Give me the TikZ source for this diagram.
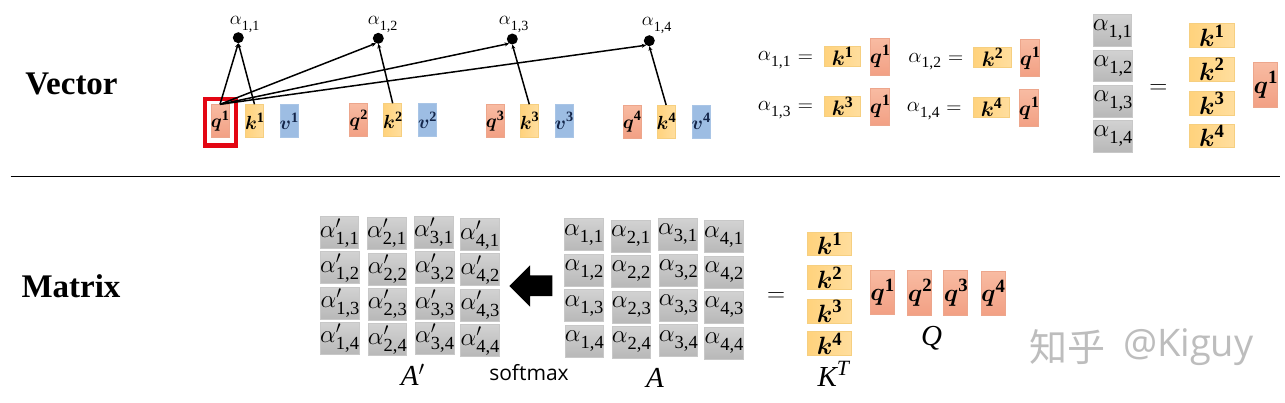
\RequirePackage{fix-cm}
\documentclass[tikz,border=0pt]{standalone}
\usepackage{amsmath}
\usepackage{graphicx}
\usepackage{fontspec}
\setmainfont{Liberation Serif}
\newfontfamily\cjkwm{Noto Sans CJK SC}
\newfontfamily\wmlatin{Open Sans}
\newfontfamily\softfont{Open Sans}
\newcommand{\fsz}[1]{\fontsize{#1}{#1}\selectfont}
% name, style, x0, y0, x1, y1, text
\newcommand{\cellbox}[7]{%
  \pgfmathsetmacro{\cbx}{(#3+#5)/2}\pgfmathsetmacro{\cby}{(#4+#6)/2}%
  \pgfmathsetmacro{\cbw}{#5-#3}\pgfmathsetmacro{\cbh}{#6-#4}%
  \node[#2,minimum width=\cbw pt,minimum height=\cbh pt] (#1) at (\cbx,\cby) {\makebox[0pt]{#7}};}
\tikzset{
  basecell/.style={rectangle,inner sep=0pt,outer sep=0pt,line width=0.6pt,text=black},
  qcell/.style={basecell,draw=qline,top color=qtop,bottom color=qbot},
  kcell/.style={basecell,draw=kline,left color=kleft,right color=kright},
  vcell/.style={basecell,draw=vline,fill=vfill,text=vtext},
  acell/.style={basecell,draw=aline,top color=atop,bottom color=abot},
  small/.style={font=\fsz{19}},
  mid/.style={font=\fsz{21}},
  large/.style={font=\fsz{25}},
  dot/.style={circle,fill=black,inner sep=0pt,outer sep=0pt,minimum size=11pt},
  link/.style={draw=black,line width=1.5pt,-{Stealth[length=4.5pt,width=4pt]}},
  plain/.style={inner sep=0pt,outer sep=0pt,text=black},
  sect/.style={plain,font=\bfseries\fsz{33},text=black},
  sel/.style={rectangle,draw=selred,line width=4.3pt,inner sep=0pt,outer sep=0pt}
}
\definecolor{qtop}{HTML}{F8BBA2}\definecolor{qbot}{HTML}{F2A084}\definecolor{qline}{HTML}{EDA68C}
\definecolor{kleft}{HTML}{FFD27C}\definecolor{kright}{HTML}{FFDE9E}\definecolor{kline}{HTML}{F6CF80}
\definecolor{vfill}{HTML}{9DBDE3}\definecolor{vline}{HTML}{A9C5E6}\definecolor{vtext}{HTML}{14264A}
\definecolor{atop}{HTML}{D2D2D2}\definecolor{abot}{HTML}{B8B8B8}\definecolor{aline}{HTML}{C8C8C8}
\definecolor{selred}{HTML}{E30613}
\definecolor{wmgray}{HTML}{BDBDBD}
\usetikzlibrary{arrows.meta}
\newcommand{\supn}[1]{\raisebox{.38em}{\scalebox{.75}{\bfseries #1}}}
\newcommand{\subn}[2]{\raisebox{-.27em}{\scalebox{.74}{#1,#2}}}
\newcommand{\kk}[1]{$\boldsymbol{k}$\supn{#1}}
\newcommand{\qq}[1]{$\boldsymbol{q}$\supn{#1}}
\newcommand{\vv}[1]{$\boldsymbol{v}$\supn{#1}}
\newcommand{\al}[2]{$\alpha$\subn{#1}{#2}}
\newcommand{\alp}[2]{$\alpha$\rlap{$'$}\subn{#1}{#2}}
\begin{document}
\begin{tikzpicture}[x=1pt,y=-1pt]
\useasboundingbox (0,0) rectangle (1285,402);
\fill[white] (0,0) rectangle (1285,402);

% section titles and divider
\node[sect] (vec) at (71.5,84) {Vector};
\node[sect] (mat) at (71,286.5) {Matrix};
\coordinate (divl) at (10.7,176.5);
\coordinate (divr) at (1280,176.5);
\draw[line width=1pt] (divl) -- (divr);

% q k v row
\cellbox{q1}{qcell,small}{211}{104.3}{229}{137.7}{\qq{1}}
\cellbox{k1}{kcell,small}{245.3}{104.3}{263.7}{137.7}{\kk{1}}
\cellbox{v1}{vcell,small}{280}{104.3}{298}{137.7}{\vv{1}}
\cellbox{q2}{qcell,small}{349.3}{103.3}{367.7}{136.7}{\qq{2}}
\cellbox{k2}{kcell,small}{383.7}{103.3}{401.7}{136.7}{\kk{2}}
\cellbox{v2}{vcell,small}{418.3}{103.3}{436.3}{136.7}{\vv{2}}
\cellbox{q3}{qcell,small}{486}{104.3}{504}{137.3}{\qq{3}}
\cellbox{k3}{kcell,small}{520.3}{104.3}{538.3}{137.3}{\kk{3}}
\cellbox{v3}{vcell,small}{555}{104.3}{573}{137.3}{\vv{3}}
\cellbox{q4}{qcell,small}{623}{105}{641}{138.3}{\qq{4}}
\cellbox{k4}{kcell,small}{657}{105}{675.3}{138.3}{\kk{4}}
\cellbox{v4}{vcell,small}{692}{105}{710}{138.3}{\vv{4}}

\cellbox{selbox}{sel}{204.8}{98.8}{235.8}{145.6}{}

% score dots and labels
\node[dot] (d1) at (238.3,37.7) {};
\node[dot] (d2) at (378.3,38.3) {};
\node[dot] (d3) at (512.3,39) {};
\node[dot] (d4) at (649.3,40.7) {};
\node[plain,small] (l1) at (244.7,24.5) {\al{1}{1}};
\node[plain,small] (l2) at (382.7,24.5) {\al{1}{2}};
\node[plain,small] (l3) at (513.7,24.5) {\al{1}{3}};
\node[plain,small] (l4) at (656.7,25.5) {\al{1}{4}};

\draw[link] (q1.north) -- (d1.south);
\draw[link] (k1.north) -- (d1.south);
\draw[link] (q1.north) -- (d2.-115);
\draw[link] (k2.north) -- (d2.south);
\draw[link] (q1.north) -- (d3.-125);
\draw[link] (k3.north) -- (d3.south);
\draw[link] (q1.north) -- (d4.-125);
\draw[link] (k4.north) -- (d4.south);

% four equations
\node[plain,mid] (e1) at (774.3,60) {\al{1}{1}};
\node[plain,mid] (e1eq) at (805.3,59) {$=$};
\cellbox{e1k}{kcell,mid}{824}{46}{860.7}{66}{\kk{1}}
\cellbox{e1q}{qcell,mid}{870}{38.3}{889.7}{75.3}{\qq{1}}
\node[plain,mid] (e2) at (924.7,61.7) {\al{1}{2}};
\node[plain,mid] (e2eq) at (955.7,60) {$=$};
\cellbox{e2k}{kcell,mid}{973.7}{47.3}{1011}{67.3}{\kk{2}}
\cellbox{e2q}{qcell,mid}{1020.3}{39.7}{1039.7}{76.7}{\qq{1}}
\node[plain,mid] (e3) at (774.3,110) {\al{1}{3}};
\node[plain,mid] (e3eq) at (805.3,108) {$=$};
\cellbox{e3k}{kcell,mid}{824}{96}{860.7}{116}{\kk{3}}
\cellbox{e3q}{qcell,mid}{870}{88.3}{889.7}{125.3}{\qq{1}}
\node[plain,mid] (e4) at (923.3,111) {\al{1}{4}};
\node[plain,mid] (e4eq) at (954,109.7) {$=$};
\cellbox{e4k}{kcell,mid}{973}{97.3}{1009.7}{117.3}{\kk{4}}
\cellbox{e4q}{qcell,mid}{1019}{89.7}{1038.7}{126.7}{\qq{1}}

% column form
\cellbox{c1}{acell,large}{1093}{14.3}{1131.7}{46.3}{\al{1}{1}}
\cellbox{c2}{acell,large}{1093.7}{50}{1132.3}{81.7}{\al{1}{2}}
\cellbox{c3}{acell,large}{1093.7}{85}{1132.3}{117}{\al{1}{3}}
\cellbox{c4}{acell,large}{1093.7}{120.3}{1132.3}{152.3}{\al{1}{4}}
\node[plain,large] (ceq) at (1158.3,89) {$=$};
\cellbox{ck1}{kcell,large}{1189}{23.7}{1234}{47.7}{\kk{1}}
\cellbox{ck2}{kcell,large}{1189}{57.3}{1234}{81.7}{\kk{2}}
\cellbox{ck3}{kcell,large}{1189}{91.3}{1234}{115.3}{\kk{3}}
\cellbox{ck4}{kcell,large}{1189}{124}{1234}{147.7}{\kk{4}}
\cellbox{cq}{qcell,large}{1253.3}{62.3}{1277.7}{107}{\qq{1}}

% A'
\foreach \c/\r/\x/\y in {
 1/1/320/216.7, 1/2/320.3/251.7, 1/3/320.7/287, 1/4/320.3/322,
 2/1/367.3/217.3, 2/2/368/253, 2/3/368/288, 2/4/368/323.7,
 3/1/414.3/216.3, 3/2/415.3/251.7, 3/3/415.3/287.7, 3/4/415.3/322.3,
 4/1/460.3/218.7, 4/2/460.7/253.7, 4/3/460.7/289, 4/4/460.7/324.7}{
  \pgfmathsetmacro{\xe}{\x+38.7}\pgfmathsetmacro{\ye}{\y+32}
  \cellbox{ap\c\r}{acell,large}{\x}{\y}{\xe}{\ye}{\alp{\c}{\r}}
}
% A
\foreach \c/\r/\x/\y in {
 1/1/564.3/218.7, 1/2/564.7/254.3, 1/3/564.7/289.7, 1/4/565/325,
 2/1/611.3/220.3, 2/2/611.7/255, 2/3/612/291, 2/4/612/326,
 3/1/658.3/218.3, 3/2/659/254, 3/3/659/289.3, 3/4/659/324.7,
 4/1/704.3/220.7, 4/2/704.7/256, 4/3/704.7/291.3, 4/4/704.7/327}{
  \pgfmathsetmacro{\xe}{\x+38.7}\pgfmathsetmacro{\ye}{\y+32}
  \cellbox{a\c\r}{acell,large}{\x}{\y}{\xe}{\ye}{\al{\c}{\r}}
}
% block arrow
\fill[black] (509.3,286) -- (530,265.3) -- (530,275.3) -- (552.3,275.3) -- (552.3,296) -- (530,296) -- (530,306.7) -- cycle;

\node[plain,font=\itshape\fsz{29}] (aplabel) at (412.7,375) {A$'$};
\node[plain,font=\softfont\fsz{21}] (softlabel) at (529,373) {softmax};
\node[plain,font=\itshape\fsz{29}] (alabel) at (655,378) {A};
\node[plain,large] (meq) at (776,297.3) {$=$};

% K^T
\cellbox{mk1}{kcell,large}{807}{232}{851.7}{255.7}{\kk{1}}
\cellbox{mk2}{kcell,large}{807}{265.7}{851.7}{289.7}{\kk{2}}
\cellbox{mk3}{kcell,large}{807}{299.3}{851.7}{323.7}{\kk{3}}
\cellbox{mk4}{kcell,large}{807}{331.7}{851.7}{355.7}{\kk{4}}
\node[plain,font=\itshape\fsz{29}] (ktlabel) at (833.3,374) {K\raisebox{.4em}{\scalebox{.75}{T}}};
% Q
\cellbox{mq1}{qcell,large}{870.3}{270}{894.3}{314.3}{\qq{1}}
\cellbox{mq2}{qcell,large}{907.7}{270.7}{931.7}{315}{\qq{2}}
\cellbox{mq3}{qcell,large}{943.7}{270.7}{967.7}{315}{\qq{3}}
\cellbox{mq4}{qcell,large}{981}{271.3}{1005}{315.7}{\qq{4}}
\node[plain,font=\itshape\fsz{29}] (qlabel) at (931.7,338.3) {Q};

% watermark
\node[plain,anchor=west,text=wmgray,font=\cjkwm\fsz{38}] (wm1) at (1029,347) {知乎};
\node[plain,anchor=west,text=wmgray,font=\wmlatin\fsz{38}] (wm2) at (1123,347) {@Kiguy};
\end{tikzpicture}
\end{document}
